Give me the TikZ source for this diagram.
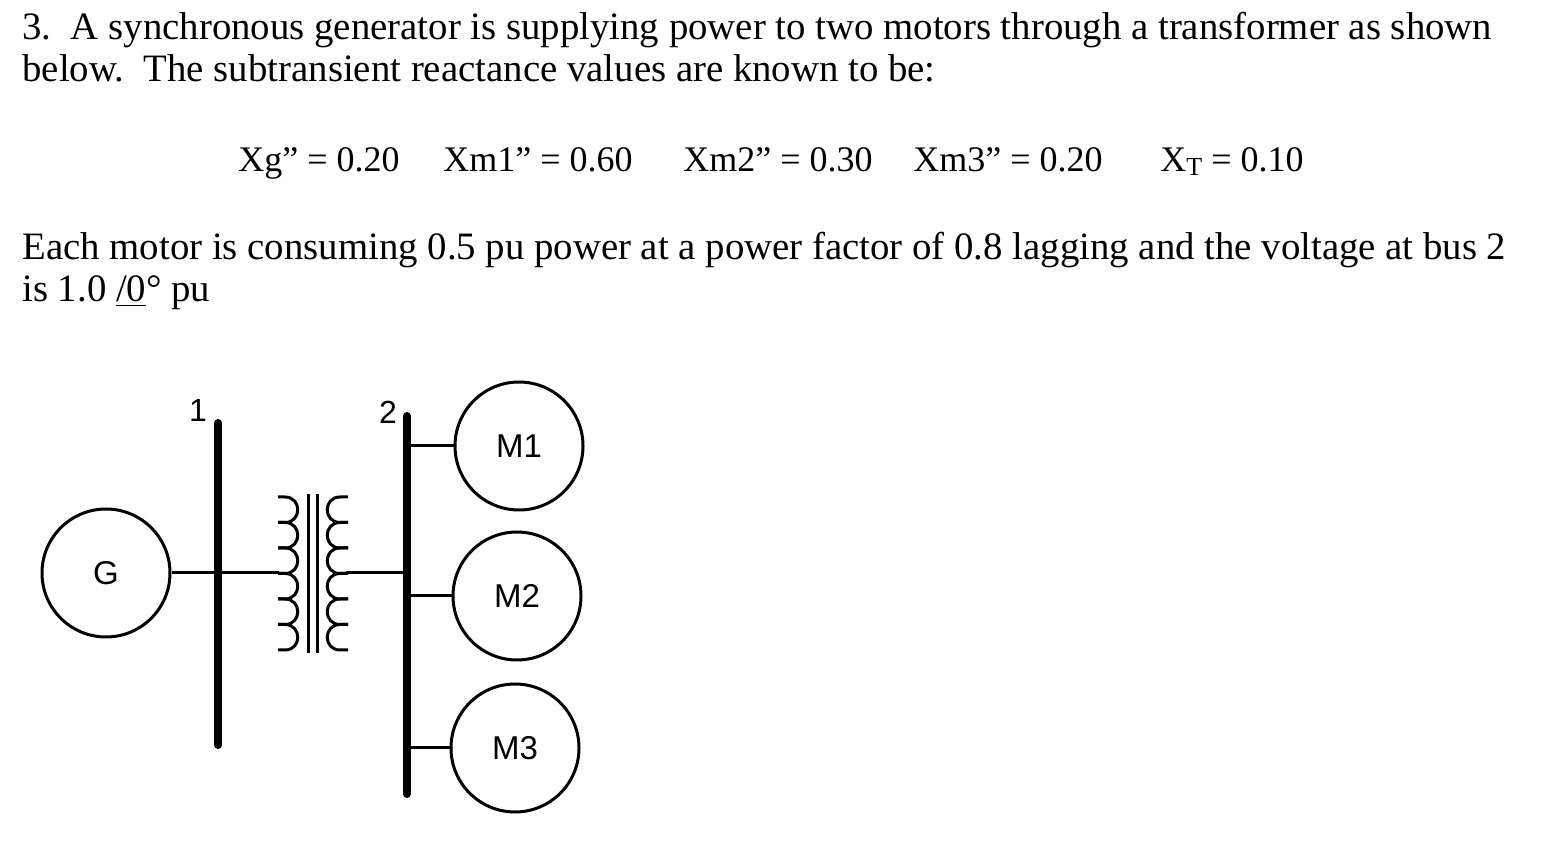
\documentclass[tikz,border=0pt]{standalone}
\usepackage{fontspec}
\setmainfont{Liberation Serif}
\newfontfamily\diagfont{Liberation Sans}
\begin{document}
\begin{tikzpicture}[x=0.5pt,y=-0.5pt,
  txt/.style={anchor=base west,inner sep=0pt,font=\fontsize{19.4}{22}\selectfont},
  eq/.style={anchor=base west,inner sep=0pt,font=\fontsize{18}{20}\selectfont},
  mach/.style={circle,draw,line width=1.5pt,minimum size=64pt,inner sep=0pt,font=\diagfont\fontsize{16.5}{18}\selectfont},
  bus/.style={line width=4pt,line cap=round},
  wire/.style={line width=1.5pt},
  lbl/.style={inner sep=0pt,font=\diagfont\fontsize{16}{18}\selectfont}]
\useasboundingbox (0,0) rectangle (1558,854);
\node[txt] (t1) at (22,40) {3.\ \ A synchronous generator is supplying power to two motors through a transformer as shown};
\node[txt] (t2) at (22,82) {below.\ \ The subtransient reactance values are known to be:};
\node[eq] (e1) at (238,172) {Xg” = 0.20};
\node[eq] (e2) at (443,172) {Xm1” = 0.60};
\node[eq] (e3) at (683,172) {Xm2” = 0.30};
\node[eq] (e4) at (913,172) {Xm3” = 0.20};
\node[eq] (e5) at (1160,172) {X\raisebox{-2pt}{\fontsize{13}{13}\selectfont T} = 0.10};
\node[txt] (t3) at (22,260) {Each motor is consuming 0.5 pu power at a power factor of 0.8 lagging and the voltage at bus 2};
\node[txt] (t4) at (22,302) {is 1.0 \underline{/0}° pu};
% machines
\node[mach] (G) at (106,573) {G};
\node[mach] (M1) at (519,446) {M1};
\node[mach] (M2) at (517,596) {M2};
\node[mach] (M3) at (515,748) {M3};
% buses
\coordinate (b1t) at (218,423); \coordinate (b1b) at (218,745);
\coordinate (b2t) at (407,416); \coordinate (b2b) at (407,794);
\draw[bus] (b1t) -- (b1b);
\draw[bus] (b2t) -- (b2b);
\node[lbl] (l1) at (198,410) {1};
\node[lbl] (l2) at (388,412) {2};
% wires
\coordinate (p1) at (279,573); \coordinate (s1) at (346,573);
\draw[wire] (G.east) -- (p1);
\draw[wire] (s1) -- (b2t |- s1);
\draw[wire] (b2t |- M1) -- (M1.west);
\draw[wire] (b2t |- M2) -- (M2.west);
\draw[wire] (b2t |- M3) -- (M3.west);
% transformer
\foreach \i in {0,...,5}{
  \pgfmathsetmacro{\ya}{497+25.5*\i}
  \pgfmathsetmacro{\yb}{522.5+25.5*\i}
  \draw[wire] (278,\ya) -- (285,\ya) .. controls (302,\ya) and (302,\yb) .. (285,\yb) -- (278,\yb);
  \draw[wire] (348,\ya) -- (340,\ya) .. controls (323,\ya) and (323,\yb) .. (340,\yb) -- (348,\yb);
}
\draw[wire] (308,494) -- (308,653);
\draw[wire] (317,494) -- (317,653);
\end{tikzpicture}
\end{document}
